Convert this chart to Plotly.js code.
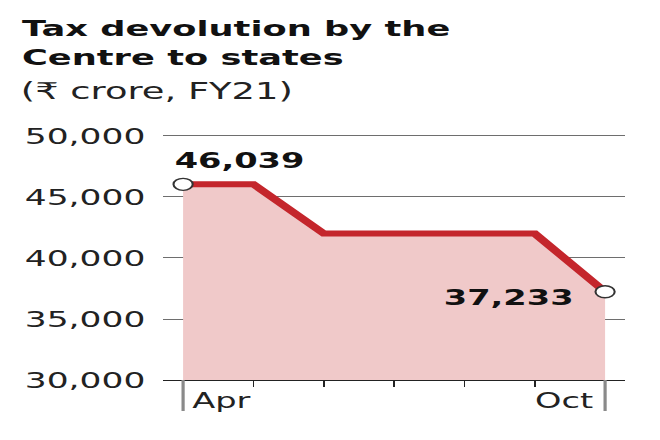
<!DOCTYPE html>
<html>
<head>
<meta charset="utf-8">
<script src="https://cdn.plot.ly/plotly-3.0.1.min.js"></script>
<style>
  html, body { margin: 0; padding: 0; background: #ffffff; overflow: hidden; width: 660px; height: 440px; }
  #wrap { width: 412px; height: 440px; transform: scaleX(1.602); transform-origin: 0 0; }
</style>
</head>
<body>
<div id="wrap"><div id="chart"></div></div>
<script>
// Data
const months = ['Apr', 'May', 'Jun', 'Jul', 'Aug', 'Sep', 'Oct'];
const devolution = [46039, 46039, 42000, 42000, 42000, 42000, 37233];
const yTicks = [30000, 35000, 40000, 45000, 50000];
const yTickText = ['30,000', '35,000', '40,000', '45,000', '50,000'];
const titleText = 'Tax devolution by the<br>Centre to states';
const subtitleText = '(₹ crore, FY21)';

const FONT = 'DejaVu Sans';
const last = months.length - 1;

const traces = [
  {
    type: 'scatter', mode: 'lines',
    x: months, y: devolution,
    line: { color: '#c4262c', width: 6 },
    fill: 'tozeroy', fillcolor: '#f0c9c9',
    hoverinfo: 'skip', cliponaxis: false
  },
  {
    type: 'scatter', mode: 'markers',
    x: [months[0], months[last]], y: [devolution[0], devolution[last]],
    marker: { size: 12, color: '#ffffff', line: { color: '#333333', width: 1.3 } },
    hoverinfo: 'skip', cliponaxis: false
  }
];

const fmt = v => v.toLocaleString('en-US');

const layout = {
  width: 412, height: 440,
  margin: { l: 102, r: 22, t: 125, b: 60 },
  paper_bgcolor: '#ffffff', plot_bgcolor: '#ffffff',
  showlegend: false,
  title: {
    text: titleText,
    font: { family: FONT, size: 22, color: '#111111', weight: 'bold' },
    xref: 'container', yref: 'container',
    x: 0.0333, xanchor: 'left',
    y: 0.918, yanchor: 'top'
  },
  xaxis: {
    type: 'category',
    categoryorder: 'array', categoryarray: months,
    range: [-0.28, 6.28],
    showgrid: false, zeroline: false,
    showline: true, linecolor: '#222222', linewidth: 1.2,
    ticks: 'outside', ticklen: 6, tickwidth: 1, tickcolor: '#222222',
    tickvals: months, showticklabels: false,
    fixedrange: true
  },
  yaxis: {
    range: [30000, 50900],
    tickvals: yTicks, ticktext: yTickText,
    showgrid: true, gridcolor: '#6e6e6e', gridwidth: 1,
    zeroline: false, showline: false,
    ticks: 'outside', ticklen: 6, tickcolor: 'rgba(0,0,0,0)',
    tickfont: { family: FONT, size: 21.5, color: '#222222' },
    fixedrange: true
  },
  shapes: [
    { type: 'line', xref: 'x', yref: 'paper', x0: months[0], x1: months[0], y0: 0, y1: -0.122,
      line: { color: '#8a8a8a', width: 2 } },
    { type: 'line', xref: 'x', yref: 'paper', x0: months[last], x1: months[last], y0: 0, y1: -0.122,
      line: { color: '#8a8a8a', width: 2 } }
  ],
  annotations: [
    { text: subtitleText, xref: 'paper', yref: 'paper', x: -0.315, y: 1.135,
      xanchor: 'left', yanchor: 'middle', showarrow: false,
      font: { family: FONT, size: 23, color: '#222222' } },
    { text: fmt(devolution[0]), x: months[0], y: devolution[0], xref: 'x', yref: 'y',
      xanchor: 'left', yanchor: 'middle', xshift: -7, yshift: 23, showarrow: false,
      font: { family: FONT, size: 21, color: '#111111', weight: 'bold' } },
    { text: fmt(devolution[last]), x: months[last], y: devolution[last], xref: 'x', yref: 'y',
      xanchor: 'right', yanchor: 'middle', xshift: -18, yshift: -6, showarrow: false,
      font: { family: FONT, size: 21, color: '#111111', weight: 'bold' } },
    { text: months[0], x: months[0], y: 0, xref: 'x', yref: 'paper',
      xanchor: 'left', yanchor: 'middle', xshift: 4, yshift: -21, showarrow: false,
      font: { family: FONT, size: 21, color: '#222222' } },
    { text: months[last], x: months[last], y: 0, xref: 'x', yref: 'paper',
      xanchor: 'right', yanchor: 'middle', xshift: -6, yshift: -21, showarrow: false,
      font: { family: FONT, size: 21, color: '#222222' } }
  ]
};

Plotly.newPlot('chart', traces, layout, { staticPlot: true, displayModeBar: false, responsive: false });
</script>
</body>
</html>
